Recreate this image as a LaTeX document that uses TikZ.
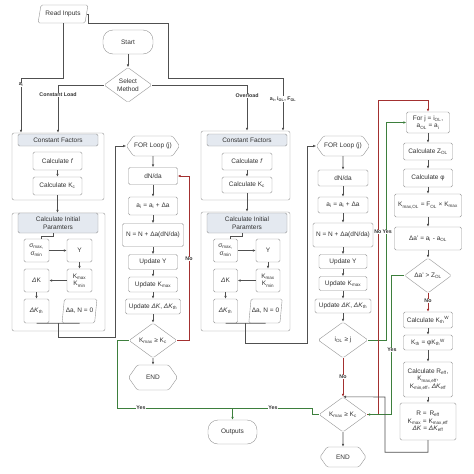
\documentclass[tikz,border=0pt]{standalone}
\usepackage{fontspec}
\setmainfont{Liberation Sans}
\usepackage{tikz}
\usetikzlibrary{arrows.meta, shapes.geometric, shapes.symbols, positioning}
\definecolor{boxline}{HTML}{969696}
\definecolor{headfill}{HTML}{E4E9F0}
\definecolor{linecol}{HTML}{505050}
\definecolor{txt}{HTML}{333333}
\definecolor{noRed}{HTML}{A33030}
\definecolor{yesGreen}{HTML}{3D7F3D}

\begin{document}
\begin{tikzpicture}[x=1pt, y=-1pt, font=\fontsize{6.5}{7.5}\selectfont,
    box/.style={draw=boxline, fill=white, rounded corners=1.5pt, align=center, inner sep=0.8pt, text=txt},
    head/.style={box, fill=headfill},
    grp/.style={draw=boxline, rounded corners=2pt, inner sep=0pt},
    term/.style={box, rounded corners=10pt},
    hexa/.style={box, signal, signal to=west and east, signal pointer angle=110},
    para/.style={box, trapezium, trapezium left angle=72, trapezium right angle=108, trapezium stretches=true},
    decide/.style={box, diamond, aspect=1.4, inner sep=0pt},
    sz/.style 2 args={minimum width=#1pt, minimum height=#2pt},
    wire/.style={draw=linecol, line width=0.6pt},
    arr/.style={wire, -{Latex[length=3pt, width=2.6pt]}},
    noarr/.style={arr, draw=noRed},
    yesarr/.style={arr, draw=yesGreen},
    yeswire/.style={wire, draw=yesGreen},
    lbl/.style={font=\fontsize{5.3}{6.3}\selectfont\bfseries, fill=white, inner sep=0.4pt, text=txt}]
  \fill[white] (0,0) rectangle (474,474);
  \useasboundingbox (0,0) rectangle (474,474);

  % group frames
  \node[grp, sz={92}{67}] (grpA1) at (58,166.5) {};
  \node[grp, sz={93}{118}] (grpA2) at (58.5,272) {};
  \node[grp, sz={89}{69}] (grpB1) at (245.5,165.5) {};
  \node[grp, sz={89}{119}] (grpB2) at (245.5,271.5) {};

  % start
  \node[para, sz={50}{18}] (readin) at (63,14) {Read Inputs};
  \node[term, sz={50}{24}] (start) at (128,42) {Start};
  \node[decide, sz={48}{35}] (select) at (128,85) {Select\\Method};

  % constant load: set up
  \node[head, sz={80}{12}] (hdrA1) at (58,140) {Constant Factors};
  \node[box, sz={49}{18}] (cfA) at (57.5,161) {Calculate \textit{f}};
  \node[box, sz={49}{18}] (kcA) at (57.5,186) {Calculate K\textsubscript{c}};
  \node[head, sz={80}{20}] (hdrA2) at (58,223) {Calculate Initial\\Paramters};
  \node[box, sz={25}{23}] (sigA) at (36.5,250.5) {σ\textsubscript{max,}\\σ\textsubscript{min}};
  \node[box, sz={25}{23}] (yA) at (79.5,250.5) {Y};
  \node[box, sz={25}{23}] (kmA) at (79.5,280.5) {K\textsubscript{max}\\K\textsubscript{min}};
  \node[box, sz={25}{23}] (dkA) at (36.5,280.5) {\textit{Δ}K};
  \node[box, sz={25}{24}] (dkthA) at (36.5,311) {\textit{ΔK}\textsubscript{th}};
  \node[para, sz={35}{24}] (daA) at (79.5,311) {Δa, N = 0};

  % constant load: loop
  \node[hexa, sz={50}{20}] (forA) at (153,146) {FOR Loop (j)};
  \node[box, sz={49}{17}] (dndaA) at (153,176) {dN/da};
  \node[box, sz={49}{18}] (aiA) at (153,206) {a\textsubscript{i} = a\textsubscript{i} + Δa};
  \node[box, sz={61}{23}] (nA) at (153,235) {N = N + Δa(dN/da)};
  \node[box, sz={49}{15}] (uyA) at (153,262) {Update Y};
  \node[box, sz={49}{15}] (ukA) at (153,284.5) {Update K\textsubscript{max}};
  \node[box, sz={55}{15}] (udkA) at (153,306.5) {Update \textit{ΔK}, \textit{ΔK}\textsubscript{th}};
  \node[decide, sz={48}{35}] (chkA) at (153,340.5) {K\textsubscript{max} ≥ K\textsubscript{c}};
  \node[hexa, sz={49}{25}] (endA) at (153,377.5) {END};

  % overload: set up
  \node[head, sz={80}{12}] (hdrB1) at (247,140) {Constant Factors};
  \node[box, sz={50}{17}] (cfB) at (247,161.5) {Calculate \textit{f}};
  \node[box, sz={50}{16}] (kcB) at (247,185) {Calculate K\textsubscript{c}};
  \node[head, sz={80}{20}] (hdrB2) at (247,223) {Calculate Initial\\Paramters};
  \node[box, sz={24}{23}] (sigB) at (225.5,250.5) {σ\textsubscript{max,}\\σ\textsubscript{min}};
  \node[box, sz={24}{23}] (yB) at (268,250.5) {Y};
  \node[box, sz={24}{23}] (kmB) at (268,280.5) {K\textsubscript{max}\\K\textsubscript{min}};
  \node[box, sz={24}{23}] (dkB) at (225.5,280.5) {\textit{Δ}K};
  \node[box, sz={24}{24}] (dkthB) at (225.5,311) {\textit{ΔK}\textsubscript{th}};
  \node[para, sz={32}{24}] (daB) at (265.5,311) {Δa, N = 0};

  % overload: loop
  \node[hexa, sz={52}{20}] (forB) at (343,146) {FOR Loop (j)};
  \node[box, sz={50}{16}] (dndaB) at (343,178) {dN/da};
  \node[box, sz={50}{16}] (aiB) at (343,205) {a\textsubscript{i} = a\textsubscript{i} + Δa};
  \node[box, sz={60}{24}] (nB) at (343,235) {N = N + Δa(dN/da)};
  \node[box, sz={48}{14}] (uyB) at (343,261.5) {Update Y};
  \node[box, sz={48}{14}] (ukB) at (343,283.5) {Update K\textsubscript{max}};
  \node[box, sz={56}{14}] (udkB) at (343,306) {Update \textit{ΔK}, \textit{ΔK}\textsubscript{th}};
  \node[decide, sz={50}{36}] (iolB) at (343,340) {i\textsubscript{OL} ≥ j};
  \node[decide, sz={48}{35}] (chkB) at (343,414.5) {K\textsubscript{max} ≥ K\textsubscript{c}};
  \node[hexa, sz={46}{20}] (endB) at (343,457) {END};
  \node[term, sz={49}{24}] (outs) at (232.5,432) {Outputs};

  % overload step
  \node[box, sz={43}{21}] (forj) at (428,122.5) {For j = i\textsubscript{OL},\\a\textsubscript{OL} = a\textsubscript{i}};
  \node[box, sz={49}{17}] (zol) at (428,151.5) {Calculate Z\textsubscript{OL}};
  \node[box, sz={49}{18}] (phi) at (428,178) {Calculate φ};
  \node[box, sz={67}{23}] (kmol) at (428,205.5) {K\textsubscript{max,OL} = F\textsubscript{OL} × K\textsubscript{max}};
  \node[box, sz={67}{23}] (dap) at (428,238.5) {Δa' = a\textsubscript{i} - a\textsubscript{OL}};
  \node[decide, sz={47}{35}] (dachk) at (428,275.5) {Δa' > Z\textsubscript{OL}};
  \node[box, sz={49}{16}] (kthw) at (428,320) {Calculate K\textsubscript{th}\textsuperscript{W}};
  \node[box, sz={49}{15}] (kth) at (428,342.5) {K\textsubscript{th} = φK\textsubscript{th}\textsuperscript{W}};
  \node[box, sz={49}{35}] (reff) at (428,379.5) {Calculate R\textsubscript{eff},\\K\textsubscript{max,eff},\\K\textsubscript{min,eff}, \textit{ΔK}\textsubscript{eff}};
  \node[box, sz={56}{37}] (rset) at (428,421.5) {R = \,R\textsubscript{eff}\\K\textsubscript{max} = K\textsubscript{max,eff}\\\textit{ΔK} = \textit{ΔK}\textsubscript{eff}};

  % inputs and method
  \draw[arr] (start) -- (select);
  \coordinate (inA) at (21,78);
  \draw[arr] (readin.south) |- (inA) -- (inA |- grpA1.north);
  \coordinate (inB1) at (168,23);
  \coordinate (inB2) at (283,78);
  \draw[arr] (readin.east) -- ++(2,0) |- (inB1) |- (inB2) -- (inB2 |- grpB1.north);
  \draw[arr] (select.west) -| (grpA1.north);
  \draw[arr] (select.east) -| (hdrB1.north |- grpB1.north);

  % constant load
  \draw[arr] (cfA) -- (kcA);
  \draw[arr] (kcA.south) -- (kcA.south |- grpA2.north);
  \draw[wire] ([xshift=-5pt]hdrA2.south) -- ++(0,3) -| ([xshift=5pt]sigA.north);
  \draw[arr] (sigA) -- (yA);
  \draw[arr] (yA) -- (kmA);
  \draw[arr] (kmA) -- (dkA);
  \draw[arr] (dkA) -- (dkthA);
  \draw[wire] (dkthA.south) -- coordinate[pos=0.5] (botA) (daA.south);
  \coordinate (loopA) at (115,146);
  \draw[arr] (botA) -- ++(0,14) -| (loopA) -- (forA.west);
  \draw[arr] (forA) -- (dndaA);
  \draw[arr] (dndaA) -- (aiA);
  \draw[arr] (aiA) -- (nA);
  \draw[arr] (nA) -- (uyA);
  \draw[arr] (uyA) -- (ukA);
  \draw[arr] (ukA) -- (udkA);
  \draw[arr] (udkA) -- (chkA);
  \draw[arr] (chkA) -- (endA);
  \draw[noarr] (chkA.east) -- ++(12,0) |- (dndaA.east);
  \coordinate (yesjoin) at (232.5,408);
  \draw[yesarr] (chkA.west) -- ++(-12,0) |- (yesjoin) -- (outs.north);

  % overload
  \draw[arr] (cfB) -- (kcB);
  \draw[arr] (kcB.south) -- (kcB.south |- grpB2.north);
  \draw[wire] ([xshift=-5pt]hdrB2.south) -- ++(0,3) -| ([xshift=5pt]sigB.north);
  \draw[arr] (sigB) -- (yB);
  \draw[arr] (yB) -- (kmB);
  \draw[arr] (kmB) -- (dkB);
  \draw[arr] (dkB) -- (dkthB);
  \draw[wire] (dkthB.south) -- coordinate[pos=0.5] (botB) (daB.south);
  \coordinate (loopB) at (307,146);
  \draw[arr] (botB) -- ++(0,20) -| (loopB) -- (forB.west);
  \draw[arr] (forB) -- (dndaB);
  \draw[arr] (dndaB) -- (aiB);
  \draw[arr] (aiB) -- (nB);
  \draw[arr] (nB) -- (uyB);
  \draw[arr] (uyB) -- (ukB);
  \draw[arr] (ukB) -- (udkB);
  \draw[arr] (udkB) -- (iolB);
  \draw[noarr] (iolB) -- (chkB);
  \draw[arr] (chkB) -- (endB);
  \draw[yesarr] (iolB.east) -- ++(18,0) |- (forj.west);
  \draw[yeswire] (chkB.west) -- ++(-7,0) -- ++(0,-6.5) -- (yesjoin);
  \coordinate (redtop) at (378,100);
  \draw[noarr] (chkB.east) -| (redtop) -| (forj.north);

  % overload step
  \draw[arr] (forj) -- (zol);
  \draw[arr] (zol) -- (phi);
  \draw[arr] (phi) -- (kmol);
  \draw[arr] (kmol) -- (dap);
  \draw[arr] (dap) -- (dachk);
  \draw[noarr] (dachk) -- (kthw);
  \draw[arr] (kthw) -- (kth);
  \draw[arr] (kth) -- (reff);
  \draw[arr] (reff) -- (rset);
  \draw[yesarr] (dachk.west) -- ++(-13,0) |- (chkB.east);
  \coordinate (loopR) at (385,397);
  \draw[arr] (rset.south) -- ++(0,12) -| (loopR) -- (chkB.north);

  % labels
  \node[lbl] (lblai) at (21,85) {a\textsubscript{i}};
  \node[lbl] (lblcl) at (58,95) {Constant Load};
  \node[lbl] (lblol) at (247,96) {Overload};
  \node[lbl] (lblin) at (283,99) {a\textsubscript{i}, i\textsubscript{OL}, F\textsubscript{OL}};
  \node[lbl] (lblnoA) at (189,259) {No};
  \node[lbl] (lblyesA) at (141,408) {Yes};
  \node[lbl] (lblyesB) at (273,408) {Yes};
  \node[lbl] (lblnoB) at (343,377) {No};
  \node[lbl, anchor=east] (lblnoC) at (382,232) {No};
  \node[lbl, anchor=west] (lblyesC) at (382,232) {Yes};
  \node[lbl] (lblyesD) at (392,350) {Yes};
  \node[lbl] (lblnoD) at (428,301) {No};
\end{tikzpicture}
\end{document}
